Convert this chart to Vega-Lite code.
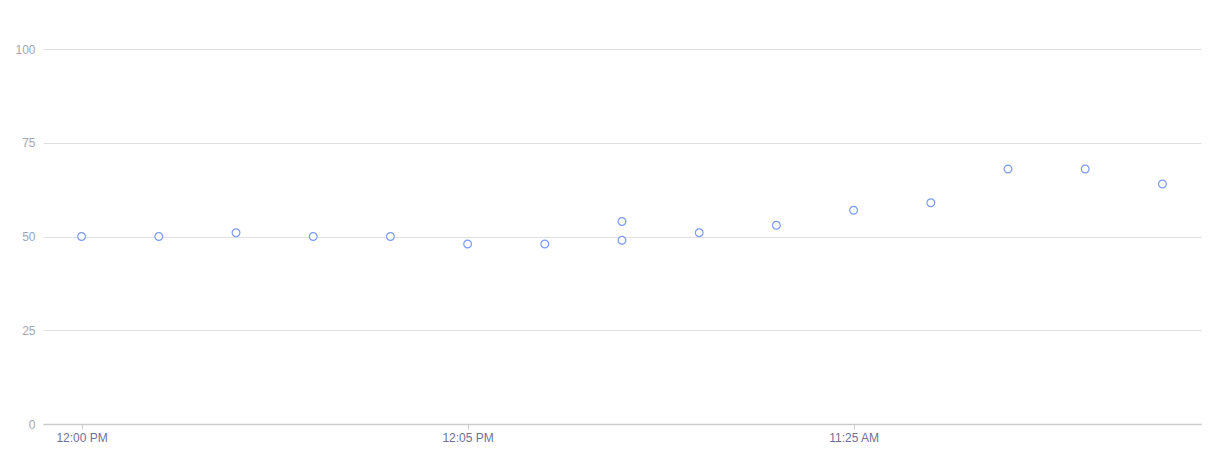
{
  "$schema": "https://vega.github.io/schema/vega-lite/v6.json",
  "description": "Scatter of values by time category.",
  "autosize": {"type": "none"},
  "width": 1158,
  "height": 375,
  "padding": {"left": 43, "top": 49, "right": 9, "bottom": 33},
  "background": "#ffffff",
  "config": {
    "view": {"stroke": null},
    "font": "Liberation Sans"
  },
  "data": {
    "values": [
      {"time": "12:00 PM", "value": 50},
      {"time": "12:01 PM", "value": 50},
      {"time": "12:02 PM", "value": 51},
      {"time": "12:03 PM", "value": 50},
      {"time": "12:04 PM", "value": 50},
      {"time": "12:05 PM", "value": 48},
      {"time": "12:06 PM", "value": 48},
      {"time": "12:07 PM", "value": 54},
      {"time": "12:07 PM", "value": 49},
      {"time": "12:08 PM", "value": 51},
      {"time": "12:09 PM", "value": 53},
      {"time": "11:25 AM", "value": 57},
      {"time": "11:26 AM", "value": 59},
      {"time": "11:27 AM", "value": 68},
      {"time": "11:28 AM", "value": 68},
      {"time": "11:29 AM", "value": 64}
    ]
  },
  "mark": {"type": "point", "shape": "circle", "filled": false, "size": 60, "stroke": "#7b9cf7", "strokeWidth": 1.2, "fill": "#ffffff", "fillOpacity": 1},
  "encoding": {
    "x": {
      "field": "time",
      "type": "ordinal",
      "sort": null,
      "scale": {"type": "point", "padding": 0.5},
      "axis": {
        "title": null,
        "values": ["12:00 PM", "12:05 PM", "11:25 AM"],
        "labelAngle": 0,
        "labelColor": "#6e7099",
        "labelFontSize": 12,
        "labelPadding": 3,
        "domainColor": "#cccccc",
        "domainWidth": 1.5,
        "tickColor": "#cccccc",
        "tickSize": 5,
        "grid": false
      }
    },
    "y": {
      "field": "value",
      "type": "quantitative",
      "scale": {"domain": [0, 100]},
      "axis": {
        "title": null,
        "values": [0, 25, 50, 75, 100],
        "labelColor": "#a0a7b5",
        "labelFontSize": 12,
        "labelPadding": 8,
        "domain": false,
        "ticks": false,
        "gridColor": "#e0e0e0",
        "gridWidth": 1
      }
    },
    "tooltip": [
      {"field": "time", "type": "ordinal"},
      {"field": "value", "type": "quantitative"}
    ]
  }
}
